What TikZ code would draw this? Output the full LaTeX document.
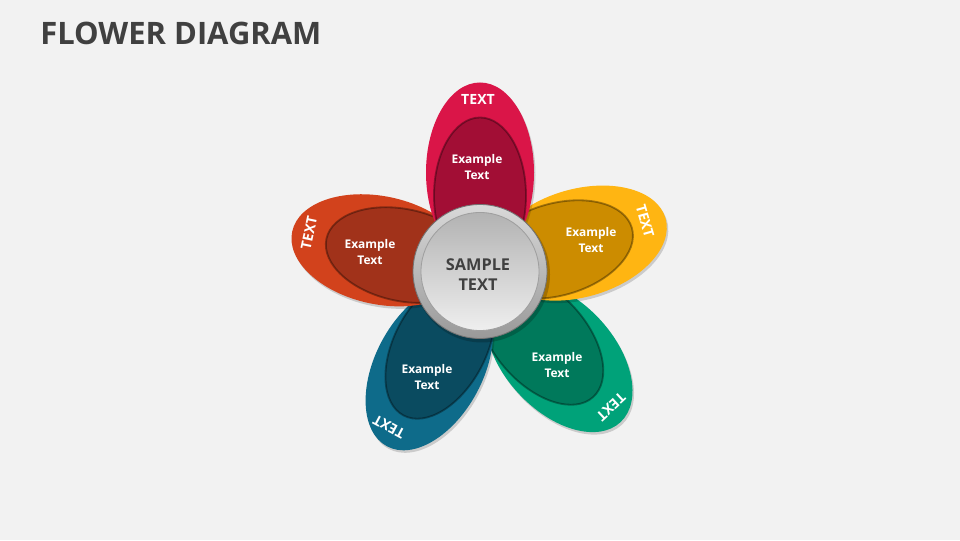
\documentclass[tikz,border=0pt]{standalone}
\usepackage{fontspec}
\setmainfont{Open Sans}

\definecolor{bgcol}{HTML}{F2F2F2}
\definecolor{titlecol}{HTML}{404040}
\definecolor{redout}{HTML}{DA1548}
\definecolor{redin}{HTML}{A20E35}
\definecolor{yelout}{HTML}{FFB512}
\definecolor{yelin}{HTML}{CC8C00}
\definecolor{grnout}{HTML}{00A279}
\definecolor{grnin}{HTML}{00795B}
\definecolor{tealout}{HTML}{0E6B8A}
\definecolor{tealin}{HTML}{0A4B60}
\definecolor{orgout}{HTML}{D2421C}
\definecolor{orgin}{HTML}{A1321A}

\begin{document}
\begin{tikzpicture}[x=0.025cm, y=0.025cm,
    petalshade/.style={black, opacity=.16},
    innerrim/.style={draw=black, draw opacity=.35, line width=1.3pt},
    petaltext/.style={text=white, font=\bfseries\fontsize{10}{12}\selectfont, inner sep=0pt},
    exampletext/.style={text=white, font=\bfseries\fontsize{8.5}{12}\selectfont, align=center, inner sep=0pt}]

    \useasboundingbox (0,0) rectangle (960,540);
    \fill[bgcol] (0,0) rectangle (960,540);

    \node[anchor=base west, inner sep=0pt, text=titlecol, font=\bfseries\fontsize{22}{26}\selectfont] (title) at (40,495) {FLOWER DIAGRAM};

    % green petal
    \fill[petalshade, shift={(1.5,-2.5)}, rotate around={-47:(480,268.5)}] (596,268.5) ellipse [x radius=90, y radius=55];
    \fill[grnout, rotate around={-47:(480,268.5)}] (596,268.5) ellipse [x radius=90, y radius=55];
    \fill[grnin, innerrim, rotate around={-48:(480,268.5)}] (571,268.5) ellipse [x radius=78, y radius=46];
    \node[petaltext, rotate=-137] (grntext) at (611,133) {TEXT};
    \node[exampletext] (grnex) at (557,175) {Example\\Text};

    % teal petal
    \fill[petalshade, shift={(1.5,-2.5)}, rotate around={-118:(480,268.5)}] (588,268.5) ellipse [x radius=90, y radius=54];
    \fill[tealout, rotate around={-118:(480,268.5)}] (588,268.5) ellipse [x radius=90, y radius=54];
    \fill[tealin, innerrim, rotate around={-118:(480,268.5)}] (565,268.5) ellipse [x radius=78, y radius=46];
    \node[petaltext, rotate=152] (tealtext) at (389,113) {TEXT};
    \node[exampletext] (tealex) at (427,163) {Example\\Text};

    % yellow petal
    \fill[petalshade, shift={(1.5,-2.5)}, rotate around={16:(480,268.5)}] (583,268.5) ellipse [x radius=90, y radius=54];
    \fill[yelout, rotate around={16:(480,268.5)}] (583,268.5) ellipse [x radius=90, y radius=54];
    \fill[yelin, innerrim, rotate around={16:(480,268.5)}] (560,268.5) ellipse [x radius=78, y radius=46];
    \node[petaltext, rotate=-74] (yeltext) at (645,319) {TEXT};
    \node[exampletext] (yelex) at (591,300) {Example\\Text};

    % orange petal
    \fill[petalshade, shift={(1.5,-2.5)}, rotate around={168:(480,268.5)}] (582,268.5) ellipse [x radius=90, y radius=54];
    \fill[orgout, rotate around={168:(480,268.5)}] (582,268.5) ellipse [x radius=90, y radius=54];
    \fill[orgin, innerrim, rotate around={168:(480,268.5)}] (559,268.5) ellipse [x radius=78, y radius=46];
    \node[petaltext, rotate=78] (orgtext) at (309,307) {TEXT};
    \node[exampletext] (orgex) at (370,288) {Example\\Text};

    % red petal
    \fill[petalshade, shift={(1.5,-2.5)}, rotate around={90:(480,268.5)}] (579,268.5) ellipse [x radius=90, y radius=54];
    \fill[redout, rotate around={90:(480,268.5)}] (579,268.5) ellipse [x radius=90, y radius=54];
    \fill[redin, innerrim, rotate around={90:(480,268.5)}] (556,268.5) ellipse [x radius=78, y radius=46];
    \node[petaltext] (redtext) at (478,441) {TEXT};
    \node[exampletext] (redex) at (477,373) {Example\\Text};

    % centre
    \fill[black, opacity=.2] (482,265.5) circle (68);
    \shade[top color=gray!30, bottom color=gray!80, draw=gray!90!black, line width=.6pt] (480,268.5) circle (67);
    \shade[top color=gray!60, bottom color=gray!13, draw=gray!75, line width=.6pt] (480,268.5) circle (59);
    \node[text=titlecol, align=center, inner sep=0pt, font=\bfseries\fontsize{11.6}{14.4}\selectfont] (hub) at (478,265.5) {SAMPLE\\TEXT};

\end{tikzpicture}
\end{document}
